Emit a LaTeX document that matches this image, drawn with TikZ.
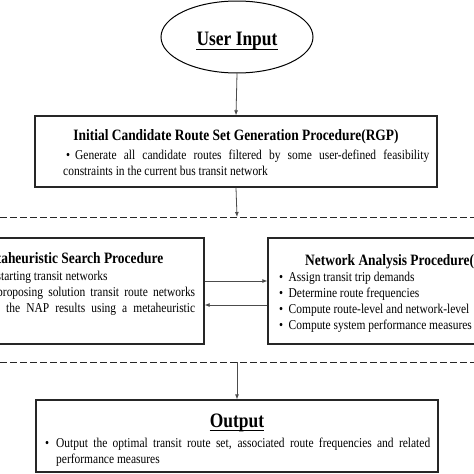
\documentclass[tikz,border=0pt]{standalone}
\usepackage{fontspec}
\setmainfont[FakeStretch=0.85]{Liberation Serif}
\usetikzlibrary{arrows.meta,shapes.geometric}
\begin{document}
\begin{tikzpicture}[x=1pt,y=-1pt,
  box/.style={draw=black!85,line width=1.3pt,inner sep=0pt,fill=white},
  ttl/.style={inner sep=0pt,anchor=base,font=\fontsize{15.8}{18}\selectfont\bfseries},
  ttlw/.style={inner sep=0pt,anchor=base west,font=\fontsize{15.8}{18}\selectfont\bfseries},
  big/.style={inner sep=0pt,anchor=base,font=\fontsize{20.5}{24}\selectfont\bfseries},
  body/.style={inner sep=0pt,anchor=base west,font=\fontsize{13.5}{16}\selectfont},
  arr/.style={draw=black!70,line width=0.8pt,-{Latex[length=5pt,width=4pt]}},
  dline/.style={draw=black!85,line width=1pt,dash pattern=on 6.5pt off 3.5pt},
  uline/.style={draw=black,line width=1pt}
]
\useasboundingbox (0,0) rectangle (474,474);
\clip (0,0) rectangle (474,474);
\fill[white] (0,0) rectangle (474,474);

% User input ellipse
\node[draw=black,line width=1pt,ellipse,minimum width=152pt,minimum height=72pt] (ui) at (237,37) {};
\node[big] (uit) at (237,45) {User Input};
\draw[uline] ([yshift=-4.5pt]uit.base west) -- ([yshift=-4.5pt]uit.base east);

% RGP box
\node[box,minimum width=402pt,minimum height=71pt] (rgp) at (236,151.5) {};
\node[ttl] (rgpt) at (236,140.5) {Initial Candidate Route Set Generation Procedure(RGP)};
\node[body] (rgpb) at (66,159.5) {•};
\node[body] (rgp1) at (75,159.5) {\makebox[354pt][s]{Generate all candidate routes filtered by some user-defined feasibility}};
\node[body] (rgp2) at (63,175) {constraints in the current bus transit network};

% dashed separators
\coordinate (d1) at (237,217);
\coordinate (d2) at (237,362);
\draw[dline] (0,217) -- (474,217);
\draw[dline] (0,362) -- (474,362);

% Left box (MSP)
\node[box,minimum width=214pt,minimum height=106pt] (msp) at (97,291) {};
\node[ttlw] (mspt) at (-22,263.5) {Metaheuristic Search Procedure};
\node[body] (msp1) at (-3.5,280) {starting transit networks};
\node[body] (msp2) at (-3,296) {\makebox[198pt][s]{proposing solution transit route networks}};
\node[body] (msp3) at (6,312) {\makebox[189pt][s]{the NAP results using a metaheuristic}};

% Right box (NAP)
\node[box,minimum width=216pt,minimum height=106pt] (nap) at (376,291) {};
\node[ttlw] (napt) at (305,265) {Network Analysis Procedure(NAP)};
\node[body] (nb1) at (279,281.5) {•};
\node[body] (nap1) at (288.5,281.5) {Assign transit trip demands};
\node[body] (nb2) at (279,297.5) {•};
\node[body] (nap2) at (288.5,297.5) {Determine route frequencies};
\node[body] (nb3) at (279,313.5) {•};
\node[body] (nap3) at (288.5,313.5) {Compute route-level and network-level};
\node[body] (nb4) at (279,329.5) {•};
\node[body] (nap4) at (288.5,329.5) {Compute system performance measures};

% Output box
\node[box,minimum width=402pt,minimum height=72pt] (out) at (237,436) {};
\node[big] (outt) at (237,427) {Output};
\draw[uline] ([yshift=-3.5pt]outt.base west) -- ([yshift=-3.5pt]outt.base east);
\node[body] (ob) at (45,447.5) {•};
\node[body] (out1) at (56,447.5) {\makebox[374pt][s]{Output the optimal transit route set, associated route frequencies and related}};
\node[body] (out2) at (56,463) {performance measures};

% connectors
\coordinate (r1) at (0,281);
\coordinate (r2) at (0,305);
\draw[arr] (ui.south) -- (rgp.north);
\draw[arr] (rgp.south) -- (d1);
\draw[arr] (msp.east |- r1) -- (nap.west |- r1);
\draw[arr] (nap.west |- r2) -- (msp.east |- r2);
\draw[arr] (d2) -- (out.north);
\end{tikzpicture}
\end{document}
